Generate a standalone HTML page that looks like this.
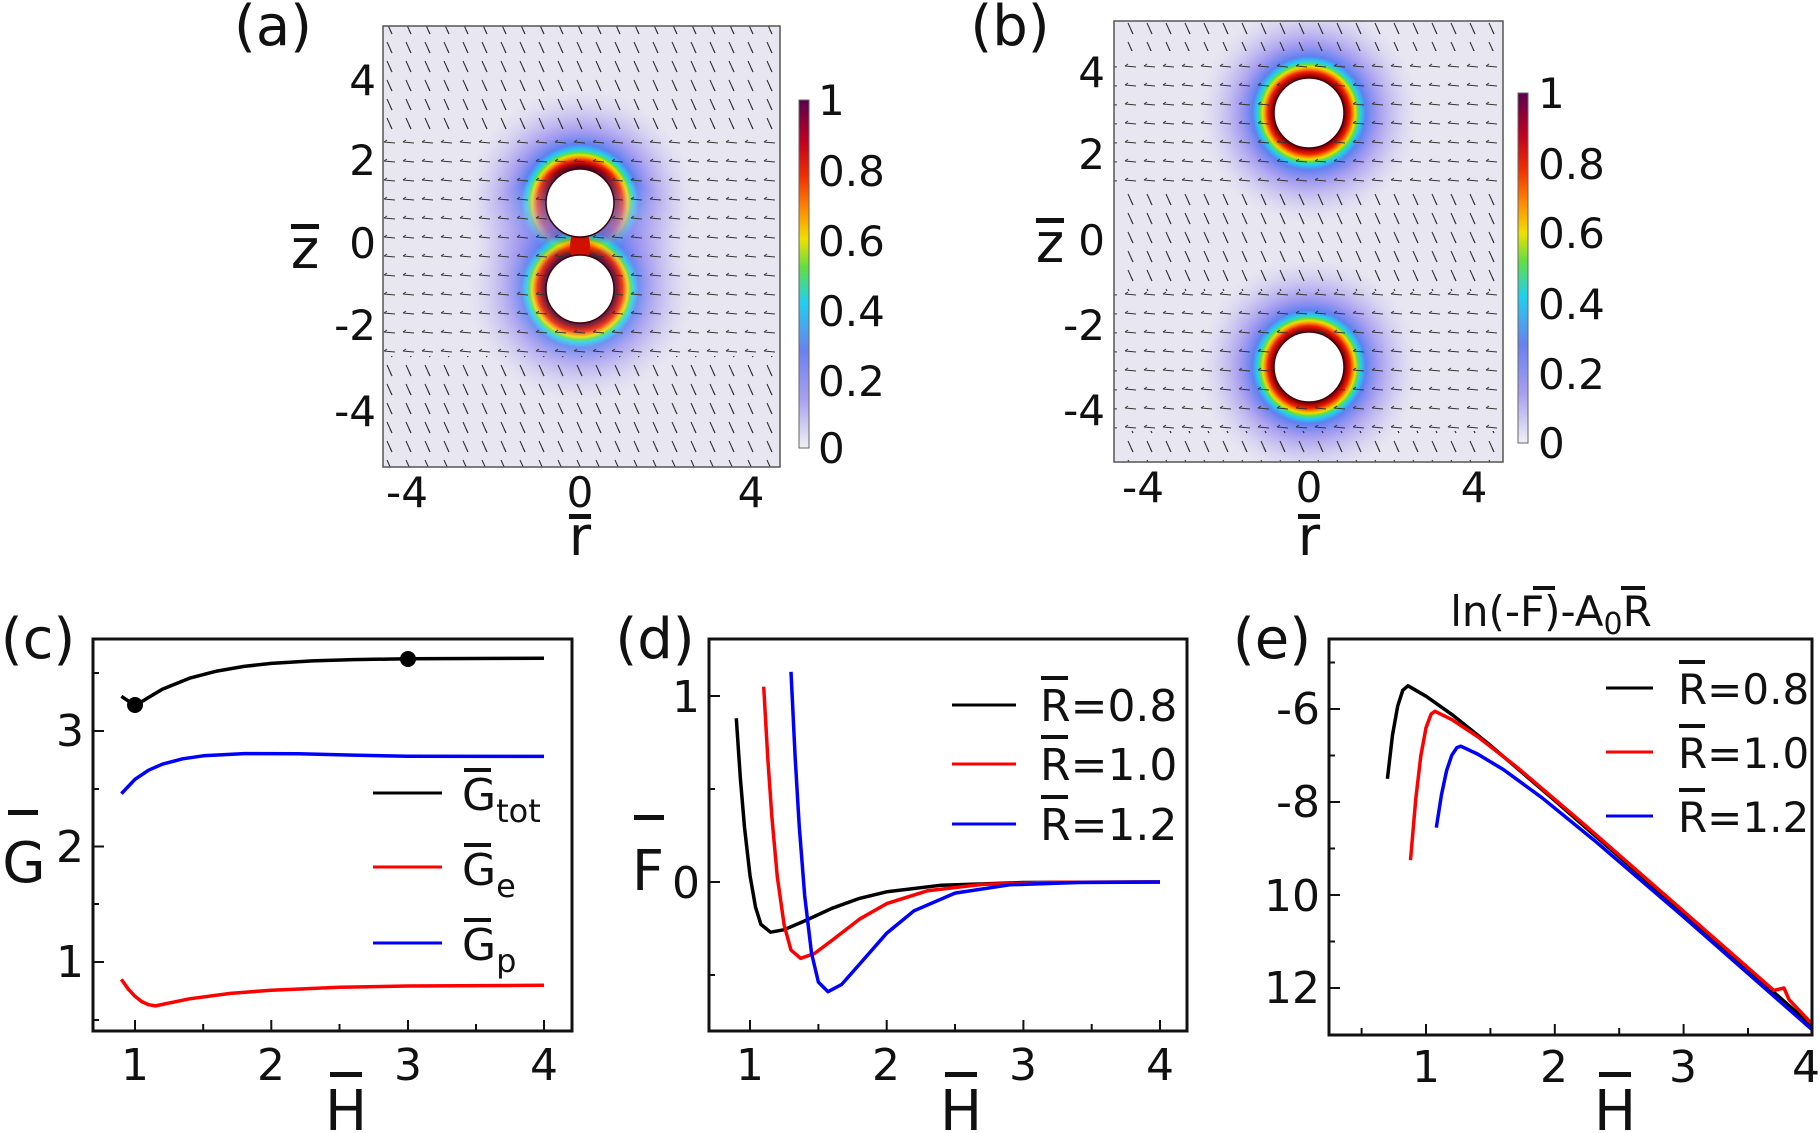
<!DOCTYPE html>
<html><head><meta charset="utf-8">
<style>
html,body{margin:0;padding:0;background:#fff;}
svg{display:block;font-family:"DejaVu Sans","Liberation Sans",sans-serif;}
</style></head>
<body>
<svg width="1820" height="1133" viewBox="0 0 1820 1133" xmlns="http://www.w3.org/2000/svg">
<defs>
<radialGradient id="halo" cx="0.5" cy="0.5" r="0.5">
<stop offset="0.30" stop-color="#500030"/>
<stop offset="0.32" stop-color="#a00000"/>
<stop offset="0.355" stop-color="#f02000"/>
<stop offset="0.38" stop-color="#ff9000"/>
<stop offset="0.40" stop-color="#e8e000"/>
<stop offset="0.42" stop-color="#60e040"/>
<stop offset="0.445" stop-color="#20d0f0"/>
<stop offset="0.49" stop-color="#6080f0"/>
<stop offset="0.60" stop-color="#9a90f0" stop-opacity="0.85"/>
<stop offset="0.78" stop-color="#c0b8f0" stop-opacity="0.5"/>
<stop offset="1" stop-color="#e8e6f2" stop-opacity="0"/>
</radialGradient>
<linearGradient id="cbar" x1="0" y1="0" x2="0" y2="1">
<stop offset="0" stop-color="#5a0050"/>
<stop offset="0.12" stop-color="#c00020"/>
<stop offset="0.22" stop-color="#f03000"/>
<stop offset="0.32" stop-color="#ff9000"/>
<stop offset="0.40" stop-color="#f0e000"/>
<stop offset="0.48" stop-color="#60e040"/>
<stop offset="0.58" stop-color="#20d0f0"/>
<stop offset="0.72" stop-color="#6a80f0"/>
<stop offset="0.86" stop-color="#a8a0f0"/>
<stop offset="1" stop-color="#f0f0f4"/>
</linearGradient>
<pattern id="qv" x="0" y="0" width="19" height="19" patternUnits="userSpaceOnUse">
<line x1="7" y1="4" x2="12" y2="15" stroke="#333" stroke-width="1.1"/>
<line x1="12" y1="15" x2="10" y2="11" stroke="#333" stroke-width="1"/>
</pattern>
<pattern id="qh" x="0" y="0" width="19" height="19" patternUnits="userSpaceOnUse">
<line x1="4" y1="9" x2="15" y2="10" stroke="#333" stroke-width="1.1"/>
<line x1="4" y1="9" x2="7" y2="7" stroke="#333" stroke-width="1"/>
</pattern>
<clipPath id="ca"><rect x="383" y="26" width="397" height="441"/></clipPath>
<clipPath id="cb"><rect x="1114" y="21" width="389" height="441"/></clipPath>
</defs>

<!-- Panel (a) -->
<rect x="383" y="26" width="397" height="441" fill="#e8e7f1"/>
<g clip-path="url(#ca)">
<circle cx="580" cy="203" r="120" fill="url(#halo)"/>
<circle cx="580" cy="289" r="120" fill="url(#halo)" opacity="0.85"/>
<ellipse cx="580" cy="246" rx="10" ry="18" fill="#d01000"/>
<rect x="383" y="26" width="397" height="110" fill="url(#qv)"/>
<rect x="383" y="136" width="397" height="220" fill="url(#qh)"/>
<rect x="383" y="356" width="397" height="111" fill="url(#qv)"/>
<circle cx="580" cy="203" r="34" fill="#fff" stroke="#400" stroke-width="1.5"/>
<circle cx="580" cy="289" r="34" fill="#fff" stroke="#400" stroke-width="1.5"/>
</g>
<rect x="383" y="26" width="397" height="441" fill="none" stroke="#555" stroke-width="1.5"/>
<rect x="799" y="100" width="10" height="348" fill="url(#cbar)" stroke="#666" stroke-width="1"/>
<g font-size="42" fill="#111">
<text x="818" y="115">1</text><text x="818" y="186">0.8</text><text x="818" y="256">0.6</text>
<text x="818" y="326">0.4</text><text x="818" y="396">0.2</text><text x="818" y="463">0</text>
</g>
<g font-size="42" fill="#111" text-anchor="end">
<text x="376" y="95">4</text><text x="376" y="175">2</text><text x="376" y="258">0</text>
<text x="376" y="340">-2</text><text x="376" y="426">-4</text>
</g>
<g font-size="42" fill="#111" text-anchor="middle">
<text x="407" y="507">-4</text><text x="580" y="507">0</text><text x="751" y="507">4</text>
<text x="580" y="555" font-size="54">r</text><rect x="569" y="514" width="22" height="5" fill="#111"/>
<text x="305" y="268" font-size="54">z</text><rect x="291" y="224" width="28" height="5" fill="#111"/>
<text x="273" y="45" font-size="56">(a)</text>
</g>

<!-- Panel (b) -->
<rect x="1114" y="21" width="389" height="441" fill="#e8e7f1"/>
<g clip-path="url(#cb)">
<circle cx="1309" cy="113" r="116" fill="url(#halo)"/>
<circle cx="1309" cy="367" r="116" fill="url(#halo)"/>
<rect x="1114" y="21" width="389" height="30" fill="url(#qv)"/>
<rect x="1114" y="51" width="389" height="140" fill="url(#qh)"/>
<rect x="1114" y="191" width="389" height="100" fill="url(#qv)"/>
<rect x="1114" y="291" width="389" height="140" fill="url(#qh)"/>
<rect x="1114" y="431" width="389" height="31" fill="url(#qv)"/>
<circle cx="1309" cy="113" r="35" fill="#fff" stroke="#400" stroke-width="1.5"/>
<circle cx="1309" cy="367" r="35" fill="#fff" stroke="#400" stroke-width="1.5"/>
</g>
<rect x="1114" y="21" width="389" height="441" fill="none" stroke="#555" stroke-width="1.5"/>
<rect x="1518" y="93" width="10" height="350" fill="url(#cbar)" stroke="#666" stroke-width="1"/>
<g font-size="42" fill="#111">
<text x="1538" y="108">1</text><text x="1538" y="179">0.8</text><text x="1538" y="248">0.6</text>
<text x="1538" y="319">0.4</text><text x="1538" y="389">0.2</text><text x="1538" y="458">0</text>
</g>
<g font-size="42" fill="#111" text-anchor="end">
<text x="1105" y="87">4</text><text x="1105" y="169">2</text><text x="1105" y="255">0</text>
<text x="1105" y="340">-2</text><text x="1105" y="425">-4</text>
</g>
<g font-size="42" fill="#111" text-anchor="middle">
<text x="1143" y="502">-4</text><text x="1309" y="502">0</text><text x="1474" y="502">4</text>
<text x="1309" y="555" font-size="54">r</text><rect x="1298" y="514" width="22" height="5" fill="#111"/>
<text x="1050" y="262" font-size="54">z</text><rect x="1036" y="218" width="28" height="5" fill="#111"/>
<text x="1010" y="45" font-size="56">(b)</text>
</g>

<!-- Panel (c) -->
<g fill="none" stroke-width="3.5" stroke-linejoin="round">
<polyline stroke="#000" points="121.4,696.3 135,705.6 162.3,689.3 189.5,678.2 216.8,671.1 244,666.4 271.3,663.4 312.2,660.9 353,659.6 408,658.8 544,658.2"/>
<polyline stroke="#00f" points="121.4,793.7 135,779.3 148.6,770.2 162.3,764.2 182.7,758.8 203.2,755.8 244,753.6 298.6,753.8 353,755.1 408,756.3 544,756.4"/>
<polyline stroke="#f00" points="121.4,979.4 128.2,989 135,996.3 141.8,1001.6 148.6,1004.7 155.4,1005.9 189.5,998.8 230.4,993.4 271.3,990.2 339.5,987.3 408,986 544,985.3"/>
</g>
<circle cx="135" cy="705" r="8" fill="#000"/>
<circle cx="408" cy="659" r="8" fill="#000"/>
<g stroke="#111" stroke-width="2">
<line x1="135" y1="1031" x2="135" y2="1020"/><line x1="271.3" y1="1031" x2="271.3" y2="1020"/><line x1="408" y1="1031" x2="408" y2="1020"/><line x1="544" y1="1031" x2="544" y2="1020"/>
<line x1="203.2" y1="1031" x2="203.2" y2="1024"/><line x1="339.5" y1="1031" x2="339.5" y2="1024"/><line x1="476" y1="1031" x2="476" y2="1024"/>
<line x1="93" y1="731" x2="104" y2="731"/><line x1="93" y1="846.5" x2="104" y2="846.5"/><line x1="93" y1="962" x2="104" y2="962"/>
<line x1="93" y1="673" x2="99" y2="673"/><line x1="93" y1="789" x2="99" y2="789"/><line x1="93" y1="904" x2="99" y2="904"/><line x1="93" y1="1020" x2="99" y2="1020"/>
</g>
<rect x="93" y="639" width="479" height="392" fill="none" stroke="#111" stroke-width="3"/>
<g font-size="44" fill="#111" text-anchor="middle">
<text x="135" y="1080">1</text><text x="271" y="1080">2</text><text x="408" y="1080">3</text><text x="544" y="1080">4</text>
</g>
<g font-size="44" fill="#111" text-anchor="end">
<text x="84" y="746">3</text><text x="84" y="862">2</text><text x="84" y="977">1</text>
</g>
<text x="24" y="882" font-size="56" fill="#111" text-anchor="middle">G</text><rect x="8" y="810" width="30" height="5" fill="#111"/>
<text x="346" y="1130" font-size="56" fill="#111" text-anchor="middle">H</text><rect x="330" y="1072" width="32" height="5" fill="#111"/>
<text x="38" y="658" font-size="56" fill="#111" text-anchor="middle">(c)</text>
<g font-size="44" fill="#111">
<line x1="373" y1="793" x2="442" y2="793" stroke="#000" stroke-width="3"/>
<line x1="373" y1="867" x2="442" y2="867" stroke="#f00" stroke-width="3"/>
<line x1="373" y1="943" x2="442" y2="943" stroke="#00f" stroke-width="3"/>
<text x="462" y="810">G<tspan font-size="32" dy="12">tot</tspan></text><rect x="464" y="768" width="27" height="4" fill="#111"/>
<text x="462" y="885">G<tspan font-size="32" dy="12">e</tspan></text><rect x="464" y="843" width="27" height="4" fill="#111"/>
<text x="462" y="960">G<tspan font-size="32" dy="12">p</tspan></text><rect x="464" y="918" width="27" height="4" fill="#111"/>
</g>

<!-- Panel (d) -->
<g fill="none" stroke-width="3.5" stroke-linejoin="round">
<polyline stroke="#000" points="736.3,718.3 740.4,778.8 744.5,827.3 750,875.5 755.5,907 760.9,924.4 770.5,932.2 784.2,929.7 804.7,920.9 832,908.3 859.4,898.4 886.7,891.8 941.4,885.2 1023.4,882.5 1160,882"/>
<polyline stroke="#f00" points="763.7,686.7 767.8,758.3 771.9,817.1 777.3,876.8 784.2,925.3 791,950.1 800.6,958.3 814.3,953.6 832,940.4 859.4,919.2 886.7,903.6 927.7,890.7 982.4,884.4 1050.7,882.4 1160,882"/>
<polyline stroke="#00f" points="791,671.8 795.1,756.3 799.2,825.5 804.7,895.8 811.5,953 818.4,982.1 828,991.7 841.6,984.5 859.4,964.4 886.7,933.2 914,910.8 955,893.1 1009.7,884.8 1078,882.5 1160,882"/>
</g>
<g stroke="#111" stroke-width="2">
<line x1="750" y1="1031" x2="750" y2="1020"/><line x1="886.7" y1="1031" x2="886.7" y2="1020"/><line x1="1023.4" y1="1031" x2="1023.4" y2="1020"/><line x1="1160" y1="1031" x2="1160" y2="1020"/>
<line x1="818.4" y1="1031" x2="818.4" y2="1024"/><line x1="955" y1="1031" x2="955" y2="1024"/><line x1="1091.7" y1="1031" x2="1091.7" y2="1024"/>
<line x1="709" y1="696" x2="720" y2="696"/><line x1="709" y1="882" x2="720" y2="882"/>
<line x1="709" y1="789" x2="715" y2="789"/><line x1="709" y1="975" x2="715" y2="975"/>
</g>
<rect x="709" y="639" width="478" height="392" fill="none" stroke="#111" stroke-width="3"/>
<g font-size="44" fill="#111" text-anchor="middle">
<text x="750" y="1080">1</text><text x="886" y="1080">2</text><text x="1023" y="1080">3</text><text x="1160" y="1080">4</text>
</g>
<g font-size="44" fill="#111" text-anchor="end">
<text x="700" y="712">1</text><text x="700" y="898">0</text>
</g>
<text x="648" y="890" font-size="56" fill="#111" text-anchor="middle">F</text><rect x="634" y="815" width="30" height="5" fill="#111"/>
<text x="961" y="1130" font-size="56" fill="#111" text-anchor="middle">H</text><rect x="945" y="1072" width="32" height="5" fill="#111"/>
<text x="655" y="658" font-size="56" fill="#111" text-anchor="middle">(d)</text>
<g font-size="44" fill="#111">
<line x1="952" y1="705" x2="1016" y2="705" stroke="#000" stroke-width="3"/>
<line x1="952" y1="764" x2="1016" y2="764" stroke="#f00" stroke-width="3"/>
<line x1="952" y1="824" x2="1016" y2="824" stroke="#00f" stroke-width="3"/>
<text x="1040" y="721">R=0.8</text><rect x="1041" y="676" width="27" height="4" fill="#111"/>
<text x="1040" y="780">R=1.0</text><rect x="1041" y="735" width="27" height="4" fill="#111"/>
<text x="1040" y="840">R=1.2</text><rect x="1041" y="795" width="27" height="4" fill="#111"/>
</g>

<!-- Panel (e) -->
<g fill="none" stroke-width="3.5" stroke-linejoin="round">
<polyline stroke="#000" points="1387.4,778.8 1392.5,735.1 1397.7,706 1402.8,690.2 1408,685.8 1426,696.2 1451.8,714.4 1490.4,745.4 1554.8,800.5 1683.6,913.1 1748,969.6 1812.4,1026.1"/>
<polyline stroke="#f00" points="1410.5,860.1 1415.7,799.7 1420.8,756 1426,727.8 1431.2,713.9 1435,711.3 1451.8,719.6 1477.5,736.5 1516.2,766.6 1580.6,821.3 1683.6,911.3 1760.9,979.1 1773.8,990.4 1784,988 1789,999.6 1812.4,1024.3"/>
<polyline stroke="#00f" points="1436.3,827.6 1441.5,794.6 1446.6,770.6 1451.8,755.2 1456.9,747.6 1460.8,746.2 1477.5,754 1503.3,769.5 1541.9,797.7 1593.4,839.6 1683.6,916.9 1786.6,1007.3 1812.4,1029.9"/>
</g>
<g stroke="#111" stroke-width="2">
<line x1="1426" y1="1035" x2="1426" y2="1024"/><line x1="1554.8" y1="1035" x2="1554.8" y2="1024"/><line x1="1683.6" y1="1035" x2="1683.6" y2="1024"/>
<line x1="1361.6" y1="1035" x2="1361.6" y2="1028"/><line x1="1490.4" y1="1035" x2="1490.4" y2="1028"/><line x1="1619.2" y1="1035" x2="1619.2" y2="1028"/><line x1="1748" y1="1035" x2="1748" y2="1028"/>
<line x1="1329" y1="709" x2="1340" y2="709"/><line x1="1329" y1="802" x2="1340" y2="802"/><line x1="1329" y1="895" x2="1340" y2="895"/><line x1="1329" y1="988" x2="1340" y2="988"/>
<line x1="1329" y1="662.5" x2="1335" y2="662.5"/><line x1="1329" y1="755.5" x2="1335" y2="755.5"/><line x1="1329" y1="848.5" x2="1335" y2="848.5"/><line x1="1329" y1="941.5" x2="1335" y2="941.5"/>
</g>
<rect x="1329" y="639" width="483" height="396" fill="none" stroke="#111" stroke-width="3"/>
<g font-size="44" fill="#111" text-anchor="middle">
<text x="1426" y="1082">1</text><text x="1554" y="1082">2</text><text x="1683" y="1082">3</text><text x="1806" y="1082">4</text>
</g>
<g font-size="44" fill="#111" text-anchor="end">
<text x="1320" y="724">-6</text><text x="1320" y="817">-8</text><text x="1320" y="911">10</text><text x="1320" y="1003">12</text>
</g>
<text x="1615" y="1130" font-size="56" fill="#111" text-anchor="middle">H</text><rect x="1599" y="1072" width="32" height="5" fill="#111"/>
<text x="1272" y="658" font-size="56" fill="#111" text-anchor="middle">(e)</text>
<text x="1551" y="626" font-size="42" fill="#111" text-anchor="middle">ln(-F)-A<tspan font-size="30" dy="8">0</tspan><tspan dy="-8">R</tspan></text>
<rect x="1533" y="586" width="22" height="4" fill="#111"/>
<rect x="1621" y="586" width="24" height="4" fill="#111"/>
<g font-size="42" fill="#111">
<line x1="1606" y1="688" x2="1653" y2="688" stroke="#000" stroke-width="3"/>
<line x1="1606" y1="752" x2="1653" y2="752" stroke="#f00" stroke-width="3"/>
<line x1="1606" y1="816" x2="1653" y2="816" stroke="#00f" stroke-width="3"/>
<text x="1678" y="704">R=0.8</text><rect x="1679" y="660" width="26" height="4" fill="#111"/>
<text x="1678" y="768">R=1.0</text><rect x="1679" y="724" width="26" height="4" fill="#111"/>
<text x="1678" y="832">R=1.2</text><rect x="1679" y="788" width="26" height="4" fill="#111"/>
</g>
</svg>
</body></html>
